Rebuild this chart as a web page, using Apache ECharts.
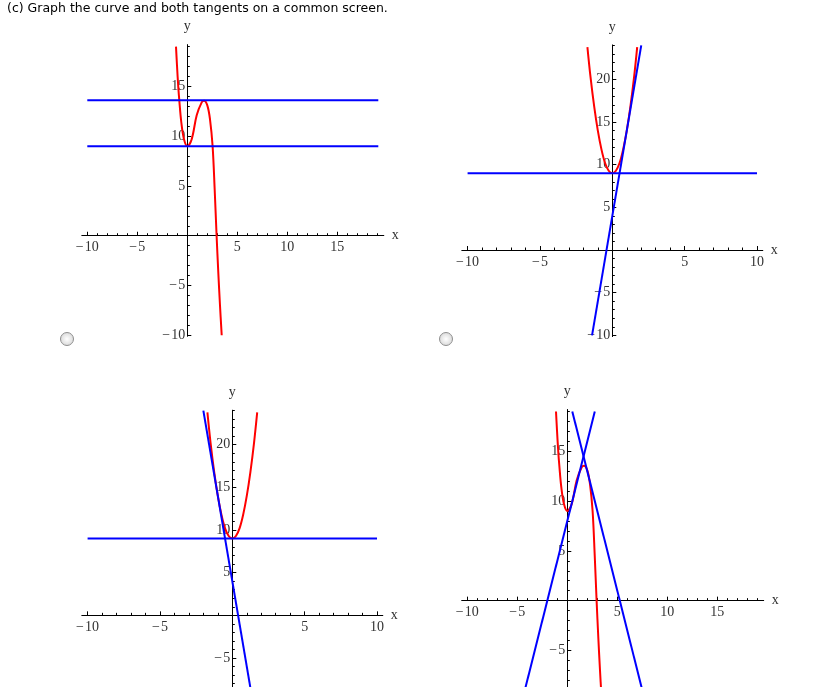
<!DOCTYPE html>
<html>
<head>
<meta charset="utf-8">
<script src="https://cdn.jsdelivr.net/npm/echarts@6/dist/echarts.min.js"></script>
<style>
  html, body { margin: 0; background: #fff; }
  #chart { width: 822px; height: 687px; }
</style>
</head>
<body>
<div id="chart"></div>
<script>
// tick labels
const ticksWide = [-10, -5, 5, 10, 15];
const ticksNarrow = [-10, -5, 5, 10];
const yTicksLow = [-10, -5, 5, 10, 15];
const yTicksHigh = [-10, -5, 5, 10, 15, 20];

// red curve of panels 1 and 4
const curveX = [-1.13, -1.03, -0.9, -0.8, -0.6, -0.33, 0, 0.44, 0.94, 1.44, 1.67, 2.0, 2.27, 2.53, 2.74, 2.93, 3.1, 3.27, 3.44];
const curveY = [19.0, 17.1, 14.9, 13.6, 11.4, 9.7, 9.0, 9.7, 12.1, 13.4, 13.55, 13.1, 11.7, 9.0, 4.6, 0, -3.7, -7.0, -10.0];

// red parabola of panels 2 and 3
const paraX = [-1.72, -1.5, -1.25, -1, -0.75, -0.5, -0.25, 0, 0.25, 0.5, 0.75, 1, 1.25, 1.5, 1.72];
const paraY = [23.8, 20.2, 16.8, 14.0, 11.8, 10.2, 9.3, 9.0, 9.3, 10.2, 11.8, 14.0, 16.8, 20.2, 23.8];

// blue tangents, end points
const highFlatX = [-10, 19.1], highFlatY = [13.6, 13.6];
const lowFlatX = [-10, 19.1], lowFlatY = [9, 9];
const flatX = [-10, 10], flatY = [9, 9];
const steepUpX = [-1.4, 2.0], steepUpY = [-10, 24];
const steepDownX = [-2.0, 1.4], steepDownY = [24, -10];
const leftTanX = [-4.5, 2.75], leftTanY = [-10, 19];
const rightTanX = [0.5, 7.75], rightTanY = [19, -10];

const RED = '#ff0000', BLUE = '#0000ff';
const serif = '"Liberation Serif", "DejaVu Serif", serif';

function pairs(xs, ys) {
  return xs.map((x, i) => [x, ys[i]]);
}

const panels = [
  { rect: [81.8, 44.6, 302, 291.7], x: [-10.55, 19.65], y: [-10.1, 19.2], xt: ticksWide, yt: yTicksLow,
    lines: [[curveX, curveY, RED, true], [highFlatX, highFlatY, BLUE], [lowFlatX, lowFlatY, BLUE]] },
  { rect: [461.8, 44.9, 301, 291.7], x: [-10.4, 10.4], y: [-10.15, 24.05], xt: ticksNarrow, yt: yTicksHigh,
    lines: [[paraX, paraY, RED, true], [flatX, flatY, BLUE], [steepUpX, steepUpY, BLUE]] },
  { rect: [81.8, 410.2, 301, 291.7], x: [-10.4, 10.4], y: [-10.15, 24.05], xt: ticksNarrow, yt: yTicksHigh,
    lines: [[paraX, paraY, RED, true], [flatX, flatY, BLUE], [steepDownX, steepDownY, BLUE]] },
  { rect: [461.7, 409.5, 302, 291.7], x: [-10.56, 19.64], y: [-10.1, 19.2], xt: ticksWide, yt: yTicksLow,
    lines: [[curveX, curveY, RED, true], [leftTanX, leftTanY, BLUE], [rightTanX, rightTanY, BLUE]] }
];

function fmt(v) {
  return v < 0 ? '\u2212\u200a' + Math.abs(v) : String(v);
}

const labelStyle = { fontFamily: serif, fontSize: 14, color: '#333' };
const nameStyle = { fontFamily: serif, fontSize: 14, color: '#333' };

const grid = [], xAxis = [], yAxis = [], series = [];
panels.forEach((p, i) => {
  const [left, top, w, h] = p.rect;
  // move each axis in from the grid edge so it crosses the other at zero
  const xOffset = -(0 - p.y[0]) / (p.y[1] - p.y[0]) * h;
  const yOffset = -(0 - p.x[0]) / (p.x[1] - p.x[0]) * w;
  grid.push({ left: left, top: top, width: w, height: h, containLabel: false, outerBoundsMode: 'none' });
  xAxis.push({
    type: 'value', gridIndex: i, min: p.x[0], max: p.x[1],
    minInterval: 5, maxInterval: 5,
    position: 'bottom', offset: xOffset,
    name: 'x', nameLocation: 'end', nameGap: 8, nameTextStyle: nameStyle,
    axisLine: { onZero: false, lineStyle: { color: '#000', width: 1 } },
    axisTick: { show: true, inside: true, length: 4, customValues: p.xt, lineStyle: { color: '#000' } },
    minorTick: { show: true, splitNumber: 5, length: 2.5, lineStyle: { color: '#000' } },
    axisLabel: Object.assign({ customValues: p.xt, formatter: fmt, margin: 5 }, labelStyle),
    splitLine: { show: false }
  });
  yAxis.push({
    type: 'value', gridIndex: i, min: p.y[0], max: p.y[1],
    minInterval: 5, maxInterval: 5,
    position: 'left', offset: yOffset,
    name: 'y', nameLocation: 'end', nameGap: 11, nameTextStyle: nameStyle,
    axisLine: { onZero: false, lineStyle: { color: '#000', width: 1 } },
    axisTick: { show: true, inside: true, length: 4, customValues: p.yt, lineStyle: { color: '#000' } },
    minorTick: { show: true, splitNumber: 5, length: 2.5, lineStyle: { color: '#000' } },
    axisLabel: Object.assign({ customValues: p.yt, formatter: fmt, margin: 2 }, labelStyle),
    splitLine: { show: false }
  });
  p.lines.forEach(([xs, ys, color, smooth]) => {
    series.push({
      type: 'line', xAxisIndex: i, yAxisIndex: i,
      data: pairs(xs, ys), showSymbol: false, smooth: smooth ? 0.35 : false,
      lineStyle: { color: color, width: 2 }, silent: true, animation: false
    });
  });
});

// the two radio buttons on the page
const radio = (cx, cy) => ({
  type: 'circle', shape: { cx: cx, cy: cy, r: 6.5 },
  style: {
    fill: new echarts.graphic.RadialGradient(0.5, 0.5, 0.6, [
      { offset: 0, color: '#ffffff' }, { offset: 1, color: '#d0d0d0' }
    ]),
    stroke: '#8f8f8f', lineWidth: 1
  }
});

const chart = echarts.init(document.getElementById('chart'));
chart.setOption({
  animation: false,
  title: {
    text: '(c) Graph the curve and both tangents on a common screen.',
    left: 7, top: 2, padding: 0,
    textStyle: { fontFamily: '"DejaVu Sans", Verdana, sans-serif', fontSize: 12.5, fontWeight: 'normal', color: '#000' }
  },
  grid: grid,
  xAxis: xAxis,
  yAxis: yAxis,
  series: series,
  graphic: [radio(67, 339), radio(446, 339)]
});
</script>
</body>
</html>
